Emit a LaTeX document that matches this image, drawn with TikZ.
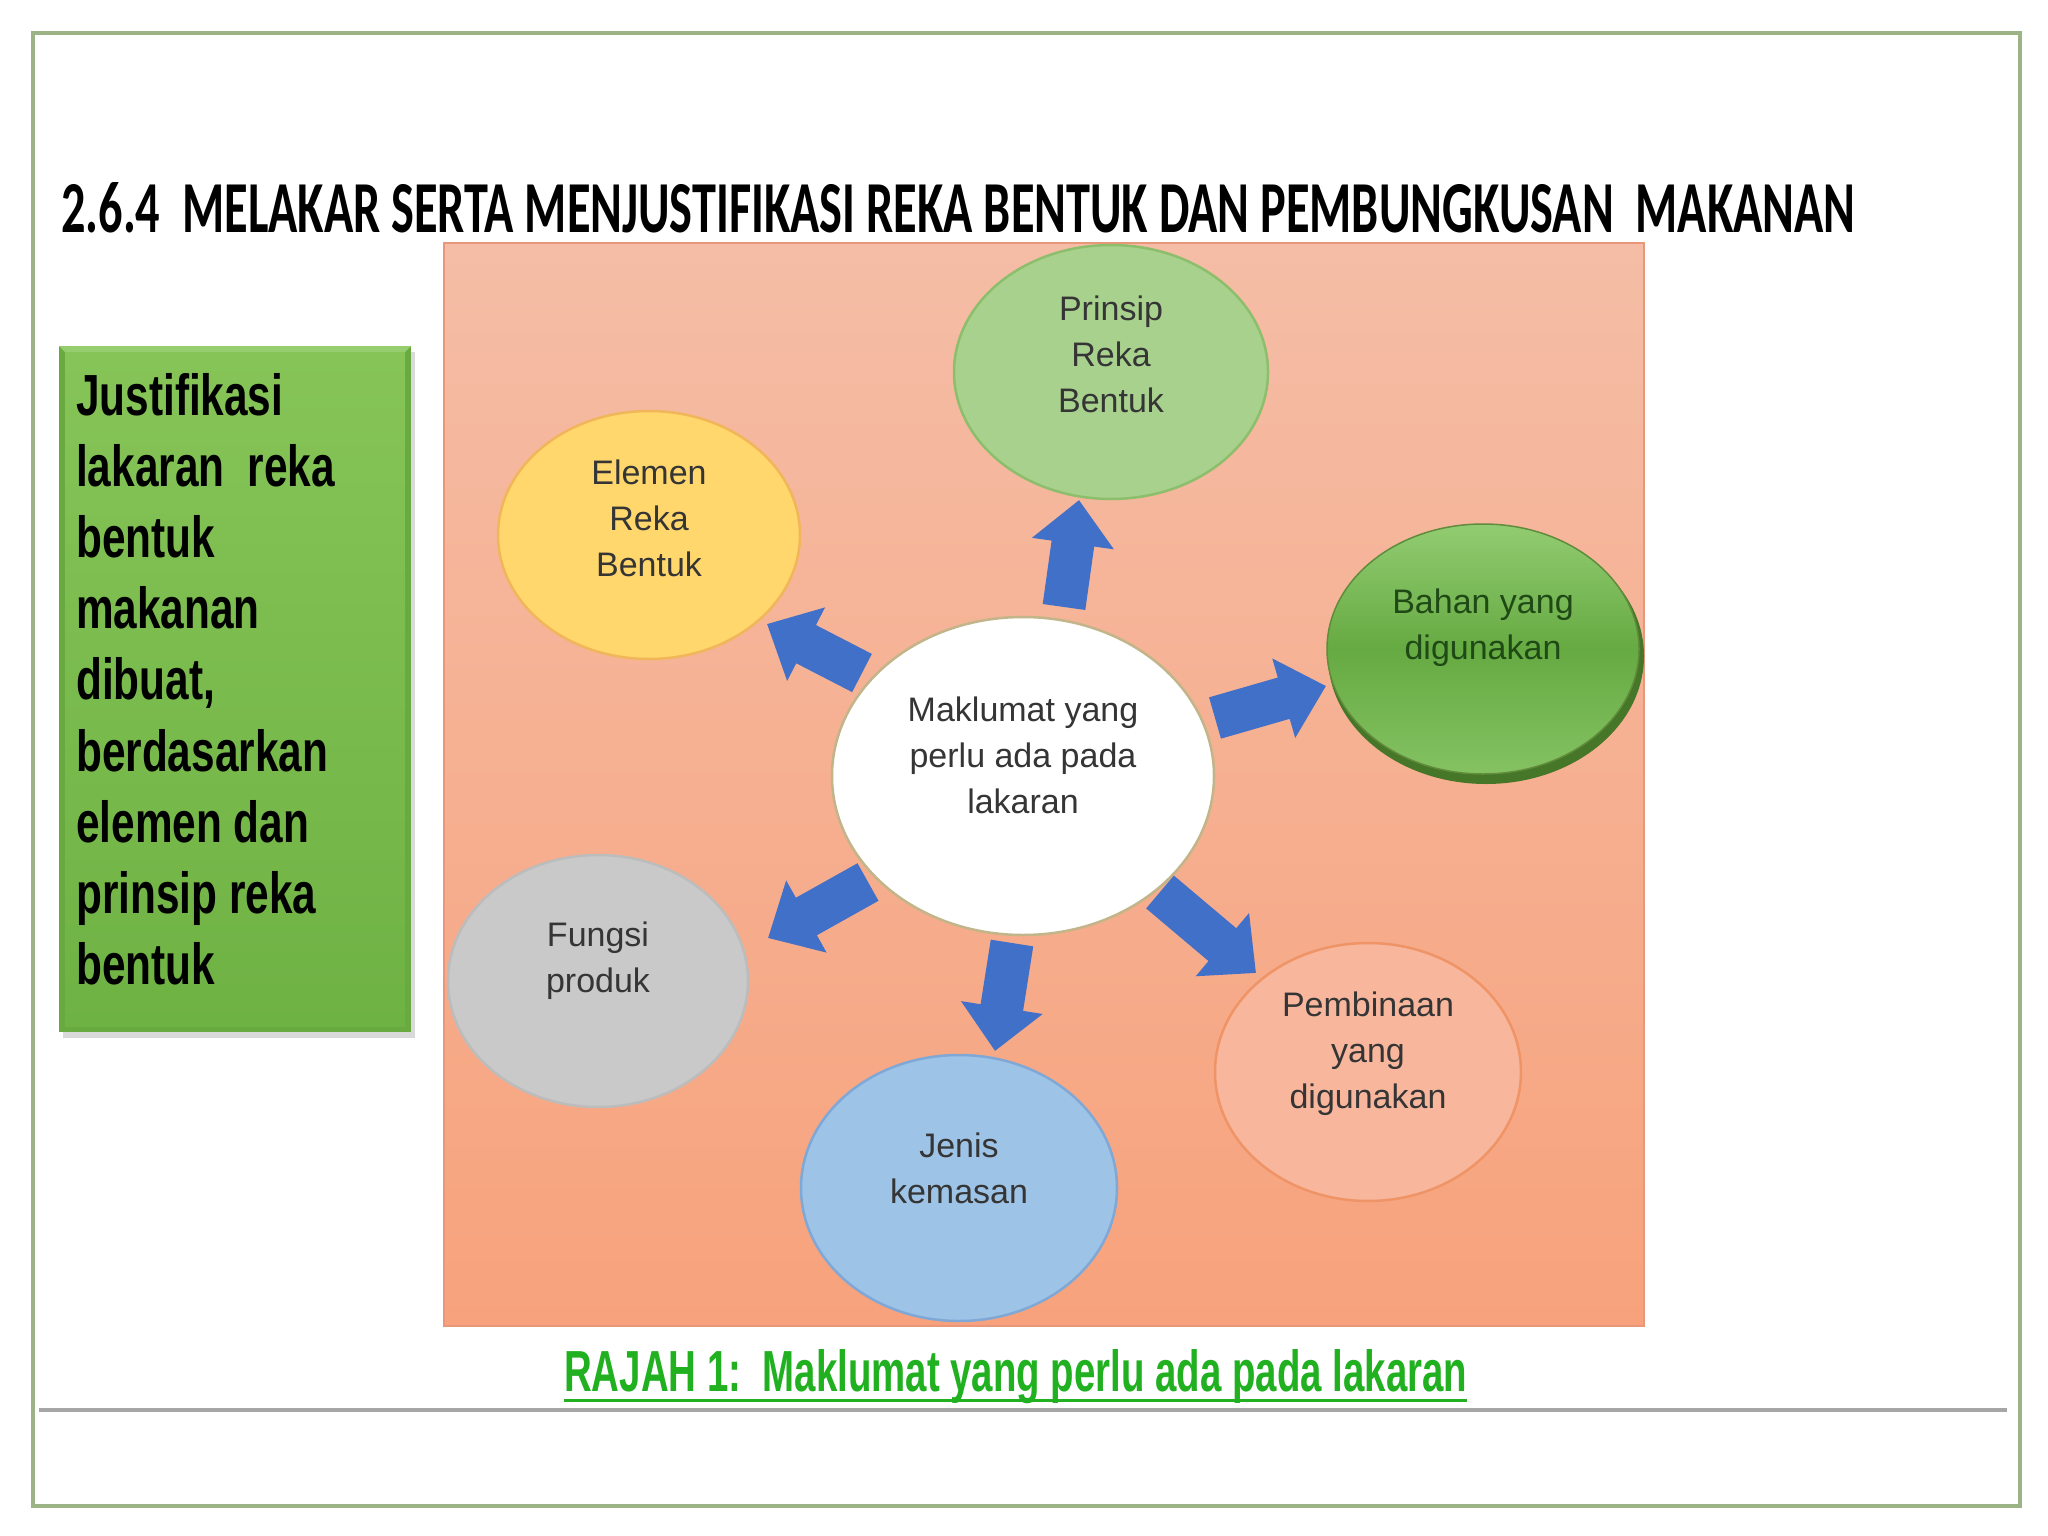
\documentclass[tikz,border=0pt]{standalone}
\usepackage{fontspec}
\setmainfont{Liberation Sans}
\newfontfamily\titlefont{Carlito}
\usetikzlibrary{shapes.geometric,arrows.meta,calc}
\definecolor{frame}{HTML}{9CB386}
\definecolor{panelTop}{HTML}{F5BDA6}
\definecolor{panelBot}{HTML}{F7A27C}
\definecolor{panelLine}{HTML}{E8977A}
\definecolor{arrowblue}{HTML}{4070C8}
\definecolor{capgreen}{HTML}{20B020}
\definecolor{boxdark}{HTML}{68AA40}
\definecolor{boxlight}{HTML}{96CD6E}
\definecolor{boxtop}{HTML}{86C457}
\definecolor{boxbot}{HTML}{6FB244}
\definecolor{txt}{HTML}{353535}
\definecolor{bahantxt}{HTML}{1F4A16}
\definecolor{bahantop}{HTML}{92CC72}
\definecolor{bahanmid}{HTML}{66AA42}
\definecolor{bahanbot}{HTML}{84C262}
\tikzset{
  ell/.style={ellipse, inner sep=0pt, line width=2.5pt},
  etext/.style={font=\fontsize{34}{46}\selectfont, text=txt, align=center, inner sep=0pt},
  boxtxt/.style={anchor=base west, inner sep=0pt, font=\bfseries\fontsize{58}{60}\selectfont, text=black},
  barrow/.style={draw=arrowblue, line width=43pt, -{Triangle[width=80pt,length=44pt]}},
}
\begin{document}
\begin{tikzpicture}[x=1pt,y=-1pt]
\useasboundingbox (0,0) rectangle (2048,1536);
\fill[white] (0,0) rectangle (2048,1536);
% outer frame
\draw[frame, line width=4pt] (33,33) rectangle (2020,1506);
% title
\node[anchor=base west, inner sep=0pt] (title) at (61,232)
  {\resizebox{1794pt}{50pt}{\titlefont\bfseries 2.6.4\ \ MELAKAR SERTA MENJUSTIFIKASI REKA BENTUK DAN PEMBUNGKUSAN\ \ MAKANAN}};
% green box
\fill[black!15] (63,352) rectangle (415,1038);
\fill[boxdark] (59,346) rectangle (411,1032);
\fill[boxlight] (59,346) -- (411,346) -- (405,352) -- (65,352) -- cycle;
\shade[top color=boxtop, bottom color=boxbot] (65,352) rectangle (405,1026);
\foreach \t [count=\i] in {Justifikasi,lakaran\ \ reka,bentuk,makanan,{dibuat,},berdasarkan,elemen dan,prinsip reka,bentuk}
  \node[boxtxt] (bt\i) at (76,{415+71.2*(\i-1)}) {\scalebox{0.73}[1]{\t}};
% panel
\shade[top color=panelTop, bottom color=panelBot, draw=panelLine, line width=1.5pt] (444,243) rectangle (1644,1326);
% ellipses
\node[ell, fill={rgb,255:red,169;green,209;blue,142}, draw={rgb,255:red,140;green,190;blue,108}, minimum width=314pt, minimum height=254pt] (prinsip) at (1111,372) {};
\node[ell, fill={rgb,255:red,255;green,215;blue,108}, draw={rgb,255:red,242;green,182;blue,90}, minimum width=302pt, minimum height=248pt] (elemen) at (649,535) {};
\node[ell, fill={rgb,255:red,70;green,118;blue,40}, minimum width=316pt, minimum height=256pt] (bahanrim) at (1486,656) {};
\node[ell, top color=bahantop, bottom color=bahanbot, middle color=bahanmid, draw={rgb,255:red,96;green,140;blue,60}, line width=1.5pt, minimum width=312pt, minimum height=250pt] (bahan) at (1483,649) {};
\node[ell, fill=white, draw={rgb,255:red,194;green,181;blue,138}, minimum width=382pt, minimum height=318pt] (maklumat) at (1023,776) {};
\node[ell, fill={rgb,255:red,201;green,201;blue,201}, draw={rgb,255:red,188;green,188;blue,188}, minimum width=300pt, minimum height=252pt] (fungsi) at (598,981) {};
\node[ell, fill={rgb,255:red,157;green,195;blue,230}, draw={rgb,255:red,127;green,168;blue,214}, minimum width=316pt, minimum height=266pt] (jenis) at (959,1188) {};
\node[ell, fill={rgb,255:red,248;green,183;blue,157}, draw={rgb,255:red,239;green,148;blue,102}, minimum width=306pt, minimum height=258pt] (pembinaan) at (1368,1072) {};
% texts
\node[etext] (tprinsip) at ($(prinsip)+(0,-18)$) {Prinsip\\Reka\\Bentuk};
\node[etext] (telemen) at ($(elemen)+(0,-17)$) {Elemen\\Reka\\Bentuk};
\node[etext, text=bahantxt] (tbahan) at ($(bahan)+(0,-21)$) {Bahan yang\\digunakan};
\node[etext] (tmaklumat) at ($(maklumat)+(0,-21)$) {Maklumat yang\\perlu ada pada\\lakaran};
\node[etext] (tfungsi) at ($(fungsi)+(0,-20)$) {Fungsi\\produk};
\node[etext] (tjenis) at ($(jenis)+(0,-20)$) {Jenis\\kemasan};
\node[etext] (tpembinaan) at ($(pembinaan)+(0,-18)$) {Pembinaan\\yang\\digunakan};
% arrows
\coordinate (a1t) at (1064,607); \coordinate (a1h) at (1079,500);
\coordinate (a2t) at (862,673);  \coordinate (a2h) at (767,624);
\coordinate (a3t) at (1215,718); \coordinate (a3h) at (1326,686);
\coordinate (a4t) at (868,882);  \coordinate (a4h) at (768,938);
\coordinate (a5t) at (1012,943); \coordinate (a5h) at (995,1051);
\coordinate (a6t) at (1160,892); \coordinate (a6h) at (1256,973);
\draw[barrow] (a1t) -- (a1h);
\draw[barrow] (a2t) -- (a2h);
\draw[barrow] (a3t) -- (a3h);
\draw[barrow] (a4t) -- (a4h);
\draw[barrow] (a5t) -- (a5h);
\draw[barrow] (a6t) -- (a6h);
% caption
\node[anchor=base west, inner sep=0pt, text=capgreen] (cap) at (564,1391)
  {\resizebox{903pt}{42pt}{\bfseries RAJAH 1:\ \ Maklumat yang perlu ada pada lakaran}};
\draw[capgreen, line width=3pt] ($(cap.base west)+(0,9)$) -- ($(cap.base east)+(0,9)$);
% gray rule
\draw[black!35, line width=4pt] (39,1410) -- (2007,1410);
\end{tikzpicture}
\end{document}
